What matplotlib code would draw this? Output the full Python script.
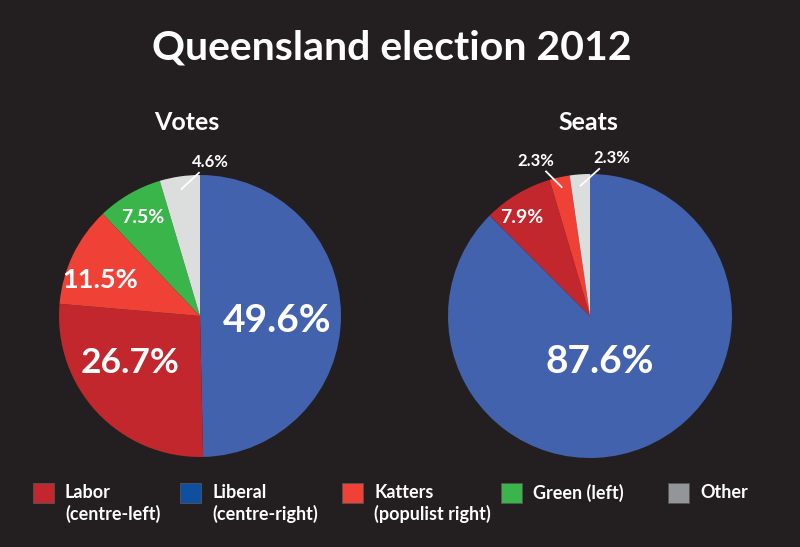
import numpy as np
import matplotlib
matplotlib.use('Agg')
import matplotlib.pyplot as plt
from matplotlib.patches import Rectangle

plt.rcParams['font.family'] = ['Lato', 'DejaVu Sans']
plt.rcParams['font.weight'] = 'bold'

# datos
votes_names = ['Liberal', 'Labor', 'Katters', 'Green', 'Other']
votes_vals = [49.6, 26.7, 11.5, 7.5, 4.6]
seats_names = ['Liberal', 'Labor', 'Katters', 'Other']
seats_vals = [87.6, 7.9, 2.3, 2.3]

legend_keys = ['Labor', 'Liberal', 'Katters', 'Green', 'Other']
legend_names = ['Labor', 'Liberal', 'Katters', 'Green (left)', 'Other']
legend_sub = ['(centre-left)', '(centre-right)', '(populist right)', '', '']

pie_col = {'Liberal': '#4262ae', 'Labor': '#c1272d', 'Katters': '#ef4136',
           'Green': '#3ab54a', 'Other': '#dcdddd'}
leg_col = {'Liberal': '#0e4fa0', 'Labor': '#c1272d', 'Katters': '#ef4136',
           'Green': '#3ab54a', 'Other': '#939598'}
bg = '#231f20'

H = 547
fig = plt.figure(figsize=(8, 5.47), dpi=100, facecolor=bg)
ax = fig.add_axes([0, 0, 1, 1])

# estilo de etiquetas: (distancia, tamano, giro) o (distancia, tamano, giro, dx, dy) para las de afuera
votes_lab = [(0.55, 28, -4), (0.60, 25.5, -9), (0.75, 19.5, 6), (0.81, 14, 0),
             (0.91, 12, 0, 29, 27)]
seats_lab = [(0.33, 28, -10), (0.84, 14, 4), (0.93, 12, 0, -26, 26),
             (0.92, 12, 0, 31, 28)]


def draw_pie(cx, cy, r, names, vals, labs, title, tx_title):
    cy = H - cy
    wedges, _ = ax.pie(vals, colors=[pie_col[n] for n in names], startangle=90,
                       counterclock=False, center=(cx, cy), radius=r,
                       wedgeprops=dict(linewidth=0), frame=True)
    for w, v, lab in zip(wedges, vals, labs):
        ang = np.deg2rad((w.theta1 + w.theta2) / 2 + lab[2])
        x = cx + lab[0] * r * np.cos(ang)
        y = cy + lab[0] * r * np.sin(ang)
        txt = '%.1f%%' % v
        if len(lab) == 3:
            ax.text(x, y, txt, color='white', fontsize=lab[1], ha='center',
                    va='center', fontweight='bold')
        else:
            tx, ty = x + lab[3], y + lab[4]
            lx = x + (tx - x) * 0.6
            ly = y + (ty - y) * 0.6
            ax.plot([x, lx], [y, ly], color='white', lw=1.3)
            ax.text(tx, ty, txt, color='white', fontsize=lab[1], ha='center',
                    va='center', fontweight='bold')
    ax.text(tx_title, H - 122, title, color='white', fontsize=18, ha='center',
            va='center', fontweight='bold')


draw_pie(200, 316, 141, votes_names, votes_vals, votes_lab, 'Votes', 187)
draw_pie(590, 316, 142, seats_names, seats_vals, seats_lab, 'Seats', 588)

fig.text(0.49, 1 - 48 / H, 'Queensland election 2012', color='white', fontsize=29.5,
         ha='center', va='center', fontweight='bold')

# leyenda
sq_x = [33, 180, 342, 501, 668]
for x0, k, n, s in zip(sq_x, legend_keys, legend_names, legend_sub):
    ax.add_patch(Rectangle((x0, H - 503), 21, 20, facecolor=leg_col[k],
                           edgecolor='#555555', lw=0.6))
    ax.text(x0 + 32, H - 493, n, color='white', fontsize=13, va='center',
            fontweight='bold')
    if s:
        ax.text(x0 + 32, H - 514, s, color='white', fontsize=13, va='center',
                fontweight='bold')

ax.set_xlim(0, 800)
ax.set_ylim(0, H)
ax.set_aspect('equal')
ax.axis('off')

plt.savefig('out.png', dpi=100, facecolor=bg)
